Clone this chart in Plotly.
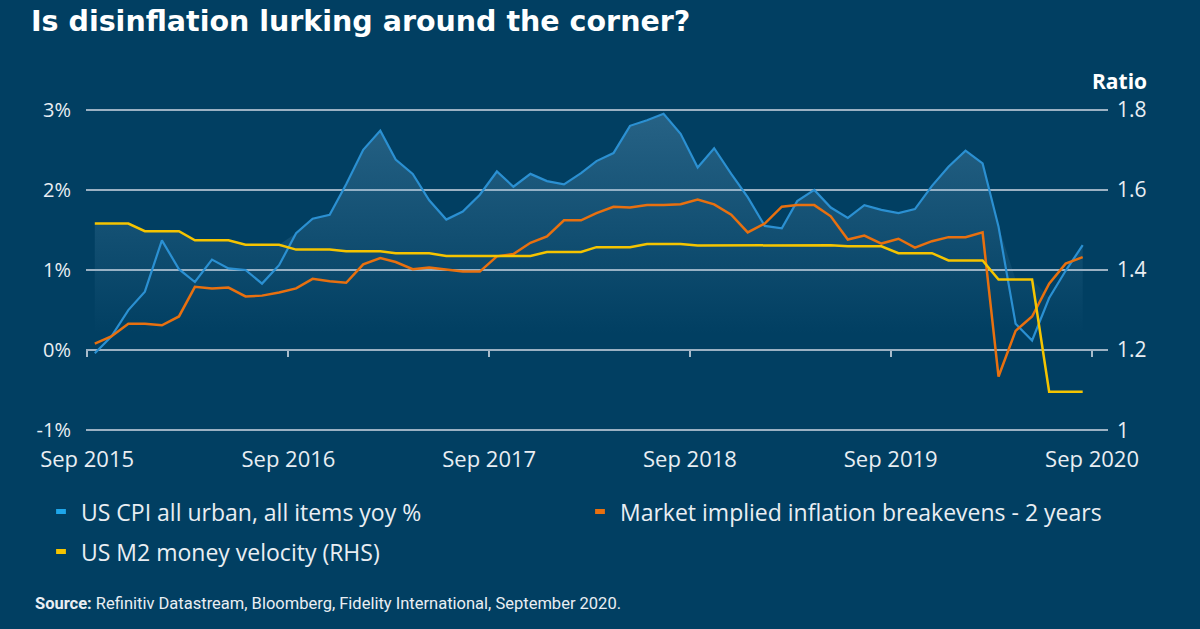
import numpy as np
import pandas as pd
import plotly.graph_objects as go

# ---------------- data ----------------
months = (pd.date_range("2015-09-01", periods=60, freq="MS") + pd.Timedelta(days=14))

cpi_yoy = [-0.04, 0.17, 0.50, 0.73, 1.37, 1.01, 0.85, 1.13, 1.02, 1.00, 0.83, 1.06,
           1.46, 1.64, 1.69, 2.07, 2.50, 2.74, 2.38, 2.20, 1.87, 1.63, 1.73, 1.94,
           2.23, 2.04, 2.20, 2.11, 2.07, 2.21, 2.36, 2.46, 2.80, 2.87, 2.95, 2.70,
           2.28, 2.52, 2.20, 1.91, 1.55, 1.52, 1.86, 2.00, 1.78, 1.65, 1.81, 1.75,
           1.71, 1.76, 2.05, 2.29, 2.49, 2.33, 1.54, 0.33, 0.12, 0.65, 0.99, 1.31]

breakeven_2y = [0.08, 0.17, 0.33, 0.33, 0.31, 0.42, 0.79, 0.77, 0.78, 0.67, 0.68, 0.72,
                0.77, 0.89, 0.86, 0.84, 1.07, 1.15, 1.10, 1.01, 1.03, 1.00, 0.98, 0.98,
                1.17, 1.20, 1.34, 1.42, 1.62, 1.62, 1.71, 1.79, 1.78, 1.81, 1.81, 1.82,
                1.88, 1.82, 1.69, 1.47, 1.58, 1.79, 1.81, 1.81, 1.67, 1.38, 1.43, 1.33,
                1.39, 1.28, 1.36, 1.41, 1.41, 1.47, -0.33, 0.24, 0.42, 0.83, 1.08, 1.16]

m2_velocity = [1.516, 1.516, 1.516, 1.497, 1.497, 1.497, 1.474, 1.474, 1.474, 1.463, 1.463, 1.463,
               1.451, 1.451, 1.451, 1.447, 1.447, 1.447, 1.442, 1.442, 1.442, 1.435, 1.435, 1.435,
               1.435, 1.435, 1.435, 1.445, 1.445, 1.445, 1.457, 1.457, 1.457, 1.465, 1.465, 1.465,
               1.461, 1.461, 1.461, 1.461, 1.461, 1.461, 1.462, 1.462, 1.462, 1.459, 1.459, 1.459,
               1.442, 1.442, 1.442, 1.424, 1.424, 1.424, 1.376, 1.376, 1.376, 1.096, 1.096, 1.096]

names = ["US CPI all urban, all items yoy %",
         "Market implied inflation breakevens - 2 years",
         "US M2 money velocity (RHS)"]

x_tick_vals = ["2015-09-01", "2016-09-01", "2017-09-01", "2018-09-01", "2019-09-01", "2020-09-01"]
x_tick_text = ["Sep 2015", "Sep 2016", "Sep 2017", "Sep 2018", "Sep 2019", "Sep 2020"]
y_tick_vals = [-1, 0, 1, 2, 3]
y_tick_text = ["-1%", "0%", "1%", "2%", "3%"]
y2_tick_vals = [1.0, 1.2, 1.4, 1.6, 1.8]
y2_tick_text = ["1", "1.2", "1.4", "1.6", "1.8"]

# ---------------- style ----------------
BG = "#013f62"
BLUE = "#2b90d2"
ORANGE = "#e8700f"
YELLOW = "#f5c400"
GRID = "#9bb1c3"
TXT = "#e9eef3"

W, H = 1200, 629
L, R = 86, 1108
PAD = 0.06                        # range padding so edge gridlines are drawn
UNIT = (430.5 - 110) / 4.0        # pixels per 1 percentage point
T = 110 - PAD * UNIT
B = 430.5 + PAD * UNIT

def px(xp):
    return (xp - L) / (R - L)

def py(yp):
    return (B - yp) / (B - T)

Y_RANGE = [-1 - PAD, 3 + PAD]
Y2_RANGE = [1.0 - PAD * 0.2, 1.8 + PAD * 0.2]   # right axis maps 1.0..1.8 onto -1..3
vel_in_left = (np.array(m2_velocity) - 1.2) / 0.2
envelope = np.maximum(np.array(cpi_yoy), vel_in_left)

fig = go.Figure()

# shaded area under upper envelope
fig.add_trace(go.Scatter(
    x=months, y=envelope, mode="lines", line=dict(width=0),
    fill="tozeroy",
    fillgradient=dict(type="vertical",
                      colorscale=[[0, "rgba(120,175,210,0)"], [1, "rgba(120,175,210,0.32)"]],
                      start=0.2, stop=3.0),
    showlegend=False, hoverinfo="skip"))

fig.add_trace(go.Scatter(x=months, y=cpi_yoy, mode="lines",
                         line=dict(color=BLUE, width=2.2), showlegend=False))
fig.add_trace(go.Scatter(x=months, y=breakeven_2y, mode="lines",
                         line=dict(color=ORANGE, width=2.5), showlegend=False))
fig.add_trace(go.Scatter(x=months, y=m2_velocity, mode="lines", yaxis="y2",
                         line=dict(color=YELLOW, width=2.5), showlegend=False))

# legend entries
for nm, col, lg in zip(names, ["#1ea6ea", ORANGE, YELLOW], ["legend", "legend2", "legend3"]):
    fig.add_trace(go.Scatter(x=[None], y=[None], xaxis="x2", mode="markers", name=nm,
                             marker=dict(symbol="line-ew", size=7, color=col,
                                         line=dict(color=col, width=7)),
                             legend=lg))

leg_common = dict(font=dict(family="Open Sans", size=23, color=TXT),
                  bgcolor="rgba(0,0,0,0)", itemwidth=30,
                  xanchor="left", yanchor="middle", orientation="h")

fig.update_layout(
    width=W, height=H,
    paper_bgcolor=BG, plot_bgcolor=BG,
    margin=dict(l=L, r=W - R, t=T, b=H - B, pad=0),
    title=dict(text="<b>Is disinflation lurking around the corner?</b>",
               font=dict(family="DejaVu Sans", size=28.5, color="white"),
               x=31 / W, xanchor="left", xref="container",
               y=1 - 21 / H, yanchor="middle", yref="container"),
    xaxis=dict(type="date", range=["2015-08-30", "2020-09-30"],
               tickvals=x_tick_vals, ticktext=x_tick_text,
               tickfont=dict(family="Open Sans", size=22, color=TXT),
               showgrid=False, zeroline=False, showline=False, ticks="",
               ticklabelstandoff=9),
    xaxis2=dict(type="date", range=["2015-08-30", "2020-09-30"], overlaying="x",
                anchor="free", position=py(350), side="bottom",
                tickvals=x_tick_vals, ticks="outside", ticklen=6, tickwidth=2,
                tickcolor="#a9bccb", showticklabels=False, showgrid=False,
                zeroline=False, showline=False),
    yaxis=dict(range=Y_RANGE, tickvals=y_tick_vals, ticktext=y_tick_text,
               tickfont=dict(family="Open Sans", size=20, color=TXT),
               showgrid=True, gridcolor=GRID, gridwidth=1.5,
               zeroline=False, showline=False, ticks="", ticklabelstandoff=14),
    yaxis2=dict(range=Y2_RANGE, overlaying="y", side="right",
                tickvals=y2_tick_vals, ticktext=y2_tick_text,
                tickfont=dict(family="Open Sans", size=21, color=TXT),
                showgrid=False, zeroline=False, showline=False, ticks="",
                ticklabelstandoff=8),
    legend=dict(x=px(41), y=py(512), **leg_common),
    legend2=dict(x=px(580), y=py(512), **leg_common),
    legend3=dict(x=px(41), y=py(552), **leg_common),
    annotations=[
        dict(text="<b>Ratio</b>", x=px(1090), y=py(81), xref="paper", yref="paper",
             xanchor="left", yanchor="middle", showarrow=False,
             font=dict(family="Open Sans", size=21, color="white")),
        dict(text="<b>Source:</b> Refinitiv Datastream, Bloomberg, Fidelity International, September 2020.",
             x=px(33), y=py(604), xref="paper", yref="paper",
             xanchor="left", yanchor="middle", showarrow=False,
             font=dict(family="Roboto", size=16.5, color=TXT)),
    ],
    showlegend=True,
)

fig.write_html("out.html")
